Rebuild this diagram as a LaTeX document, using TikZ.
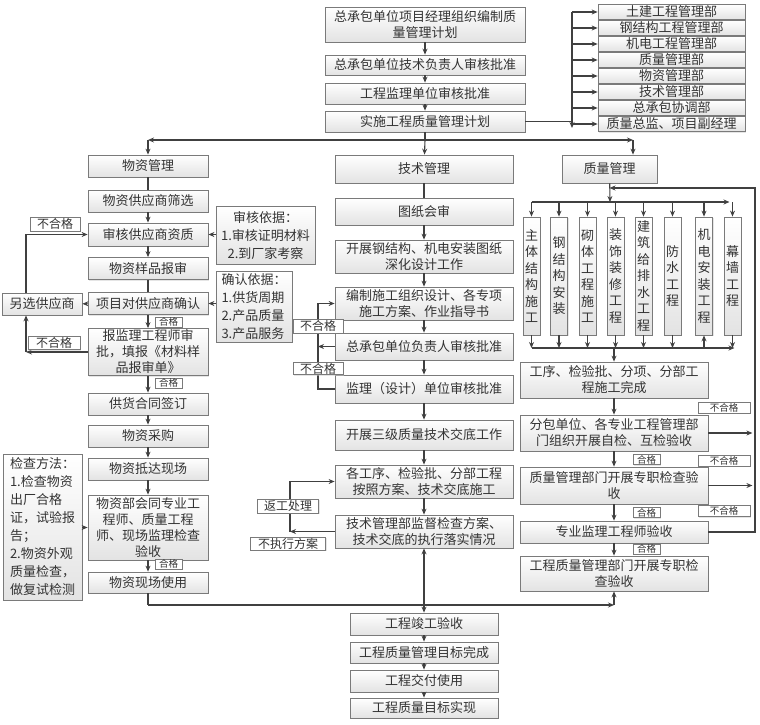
\documentclass[tikz,border=0pt]{standalone}
\usepackage{fontspec}
\setmainfont{Noto Sans CJK SC}
\usetikzlibrary{arrows.meta,shadows}
\definecolor{boxline}{HTML}{7A7A7A}
\definecolor{linegray}{HTML}{404040}
\definecolor{txtgray}{HTML}{333333}
\tikzset{flow box/.style={draw=boxline,line width=0.8pt,top color=white,bottom color=gray!22,text=txtgray,inner sep=0pt,align=center,font=\fontsize{13}{16}\selectfont,drop shadow={shadow xshift=1pt,shadow yshift=-1pt,fill=gray!40}},
  info box/.style={flow box,inner xsep=2pt,font=\fontsize{13}{18}\selectfont},
  top box/.style={flow box,minimum width=200pt},
  dept box/.style={flow box,minimum width=147pt,minimum height=15pt},
  mat box/.style={flow box,minimum width=120pt},
  tech box/.style={flow box,minimum width=178pt},
  qa box/.style={flow box,minimum width=188pt},
  end box/.style={flow box,minimum width=148pt},
  col box/.style={flow box,minimum width=17pt,minimum height=118pt,font=\fontsize{13}{16.5}\selectfont},
  tag box/.style={draw=boxline,line width=0.6pt,fill=white,text=txtgray,inner sep=0pt,font=\fontsize{12}{13}\selectfont,drop shadow={shadow xshift=1pt,shadow yshift=-1pt,fill=gray!40}},
  small tag/.style={tag box,font=\fontsize{9.5}{10}\selectfont},
  flow line/.style={draw=linegray,line width=1.1pt},
  flow arrow/.style={flow line,-{Stealth[length=6pt,width=5pt]}}}
\begin{document}
\begin{tikzpicture}[x=1pt,y=-1pt]
\useasboundingbox (0,0) rectangle (760,725);

% plan
\node (plan)   [top box,minimum height=35pt] at (425,24.5) {总承包单位项目经理组织编制质\\量管理计划};
\node (tecapp) [top box,minimum height=20pt] at (425,65)   {总承包单位技术负责人审核批准};
\node (supapp) [top box,minimum height=21pt] at (425,93.5) {工程监理单位审核批准};
\node (impl)   [top box,minimum height=21pt] at (425,121.5) {实施工程质量管理计划};
\foreach \t [count=\i] in {土建工程管理部,钢结构工程管理部,机电工程管理部,质量管理部,物资管理部,技术管理部,总承包协调部,质量总监、项目副经理}
  \node (d\i) [dept box] at (671.5,{-4+16*\i}) {\t};

% materials
\node (mat)   [mat box,minimum height=22pt] at (148,166)   {物资管理};
\node (msel)  [mat box,minimum height=22pt] at (148,201)   {物资供应商筛选};
\node (mqual) [mat box,minimum height=23pt] at (148,234.5) {审核供应商资质};
\node (msam)  [mat box,minimum height=22pt] at (148,268.5) {物资样品报审};
\node (mconf) [mat box,minimum height=22pt] at (148,303.5) {项目对供应商确认};
\node (mrep)  [mat box,minimum height=47pt] at (148,352)   {报监理工程师审\\批，填报《材料样\\品报审单》};
\node (mcon)  [mat box,minimum height=22pt] at (148,404)   {供货合同签订};
\node (mbuy)  [mat box,minimum height=22pt] at (148,436)   {物资采购};
\node (marr)  [mat box,minimum height=22pt] at (148,469)   {物资抵达现场};
\node (mchk)  [mat box,minimum height=65pt] at (148,527.5) {物资部会同专业工\\程师、质量工程\\师、现场监理检查\\验收};
\node (muse)  [mat box,minimum height=21pt] at (148,582.5) {物资现场使用};
\node (qbasis) [info box,minimum width=99pt,minimum height=58pt] at (265.5,235) {审核依据：\\1.审核证明材料\\2.到厂家考察};
\node (cbasis) [info box,align=left,minimum width=76pt,minimum height=71pt] at (254,306.5) {确认依据：\\1.供货周期\\2.产品质量\\3.产品服务};
\node (alt)    [mat box,minimum width=80pt,minimum height=22pt] at (42,304) {另选供应商};
\node (chkm)   [info box,align=left,minimum width=79pt,minimum height=146pt] at (42.5,527) {检查方法：\\1.检查物资\\出厂合格\\证，试验报\\告；\\2.物资外观\\质量检查，\\做复试检测};

% technology
\node (tech)   [tech box,minimum height=28pt] at (424,169)   {技术管理};
\node (tdraw)  [tech box,minimum height=27pt] at (424,211.5) {图纸会审};
\node (tdeep)  [tech box,minimum height=33pt] at (424,256.5) {开展钢结构、机电安装图纸\\深化设计工作};
\node (tplan)  [tech box,minimum height=33pt] at (424,303.5) {编制施工组织设计、各专项\\施工方案、作业指导书};
\node (tgc)    [tech box,minimum height=27pt] at (424,346.5) {总承包单位负责人审核批准};
\node (tsup)   [tech box,minimum height=28pt] at (424,389)   {监理（设计）单位审核批准};
\node (tbrief) [tech box,minimum height=30pt] at (424,435)   {开展三级质量技术交底工作};
\node (tbuild) [tech box,minimum height=33pt] at (424,481.5) {各工序、检验批、分部工程\\按照方案、技术交底施工};
\node (tinsp)  [tech box,minimum height=33pt] at (424,531.5) {技术管理部监督检查方案、\\技术交底的执行落实情况};

% quality
\node (qm) [flow box,minimum width=95pt,minimum height=28pt] at (609.5,169) {质量管理};
\foreach \x/\t [count=\i] in {531.5/主\\体\\结\\构\\施\\工,559/钢\\结\\构\\安\\装,587.5/砌\\体\\工\\程\\施\\工,615.5/装\\饰\\装\\修\\工\\程,643.5/建\\筑\\给\\排\\水\\工\\程,672.5/防\\水\\工\\程,704/机\\电\\安\\装\\工\\程,732.5/幕\\墙\\工\\程}
  \node (col\i) [col box] at (\x,276) {\t};
\node (qfin)  [qa box,minimum height=36pt] at (614,380)   {工序、检验批、分项、分部工\\程施工完成};
\node (qself) [qa box,minimum height=36pt] at (614,433)   {分包单位、各专业工程管理部\\门组织开展自检、互检验收};
\node (qpro)  [qa box,minimum height=37pt] at (614,485.5) {质量管理部门开展专职检查验\\收};
\node (qsv)   [qa box,minimum height=22pt] at (614,532)   {专业监理工程师验收};
\node (qeng)  [qa box,minimum height=35pt] at (614,573.5) {工程质量管理部门开展专职检\\查验收};

% completion
\node (done)    [end box,minimum height=22pt] at (424,624)   {工程竣工验收};
\node (goal)    [end box,minimum height=21pt] at (424,652.5) {工程质量管理目标完成};
\node (deliver) [end box,minimum height=22pt] at (424,681)   {工程交付使用};
\node (achieve) [end box,minimum height=20pt] at (424,708)   {工程质量目标实现};

% connectors
\foreach \a/\b in {plan/tecapp,tecapp/supapp,supapp/impl}
  \draw [flow arrow] (\a) -- (\b);
\coordinate (dtop) at (572,12);
\coordinate (dbot) at (572,128);
\draw [flow arrow] (dtop) -- (dbot);
\draw [flow line] (impl.east) -- (impl.east -| dtop);
\foreach \i in {1,...,8}
  \draw [flow arrow] (d\i.west -| dtop) -- (d\i.west);

\coordinate (split) at (425,140);
\coordinate (qin) at (633,140);
\draw [flow line] (impl) -- (split);
\draw [flow arrow] (split) -- (split -| mat);
\draw [flow arrow] (split -| mat) -- (mat);
\draw [flow arrow] (split) -- (tech);
\draw [flow arrow] (split) -- (qin);
\draw [flow arrow] (qin) -- (qin |- qm.north);

\draw [flow line] (mat) -- (msel);
\draw [flow line] (msam) -- (mconf);
\foreach \a/\b in {msel/mqual,mqual/msam,mconf/mrep,mrep/mcon,mcon/mbuy,mbuy/marr,marr/mchk,mchk/muse}
  \draw [flow arrow] (\a) -- (\b);
\draw [flow arrow] (qbasis.west |- mqual) -- (mqual.east);
\draw [flow arrow] (cbasis.west |- mconf) -- (mconf.east);
\draw [flow arrow] (chkm.east |- mchk) -- (mchk.west);
\draw [flow arrow] (mconf) -- (alt);
\coordinate (ax) at (26,0);
\draw [flow arrow] (alt.north -| ax) |- (mqual.west);
\draw [flow arrow] (mrep.west) -- (mrep.west -| ax);
\draw [flow arrow] (mrep.west -| ax) -- (alt.south -| ax);

\draw [flow line] (tech) -- (tdraw);
\foreach \a/\b in {tdraw/tdeep,tdeep/tplan,tplan/tgc,tgc/tsup,tsup/tbrief,tbrief/tbuild,tbuild/tinsp}
  \draw [flow arrow] (\a) -- (\b);
\coordinate (lx) at (318,0);
\draw [flow arrow] (tsup.west) -- (tsup.west -| lx) |- (tplan.west);
\draw [flow arrow] (tgc.west) -- (tgc.west -| lx);
\coordinate (rx) at (290,0);
\draw [flow arrow] (tinsp.west) -- (tinsp.west -| rx);
\draw [flow arrow] (tinsp.west -| rx) |- (tbuild.west);

\coordinate (qbus) at (610,202);
\coordinate (cbus) at (614,348);
\draw [flow arrow] (qm) -- (qbus);
\draw [flow arrow] (col1.north |- qbus) -- ([xshift=-3pt]col8.north |- qbus);
\foreach \i in {1,...,8}
  \draw [flow arrow] (col\i.north |- qbus) -- (col\i.north);
\foreach \i in {1,...,6,8}
  \draw [flow arrow] (col\i.south) -- (col\i.south |- cbus);
\draw [flow arrow] (col7.south |- cbus) -- (col7.south);
\draw [flow arrow] (col1.south |- cbus) -- ([xshift=2pt]col8.south |- cbus);
\draw [flow arrow] (cbus) -- (qfin);
\foreach \a/\b in {qfin/qself,qself/qpro,qpro/qsv,qsv/qeng}
  \draw [flow arrow] (\a) -- (\b);
\coordinate (rtop) at (755,188);
\draw [flow arrow] (qself.east) -- ++(44,0);
\draw [flow arrow] (qpro.east) -- ++(44,0);
\draw [flow arrow] (qsv.east) -| (rtop) -- (qm.south |- rtop);

\coordinate (bl) at (148,605);
\coordinate (br) at (614,605);
\draw [flow line] (muse) -- (bl);
\draw [flow arrow] (bl) -- (br);
\draw [flow arrow] (br) -- (qeng);
\draw [flow line,{Stealth[length=6pt,width=5pt]}-{Stealth[length=6pt,width=5pt]}] (tinsp) -- (done);
\foreach \a/\b in {done/goal,goal/deliver,deliver/achieve}
  \draw [flow arrow] (\a) -- (\b);

% tags
\node [tag box,minimum width=50pt,minimum height=14pt] at (55,224)    {不合格};
\node [tag box,minimum width=52pt,minimum height=13pt] at (54,343)    {不合格};
\node [tag box,minimum width=50pt,minimum height=14pt] at (318,326)   {不合格};
\node [tag box,minimum width=50pt,minimum height=12pt] at (318,368.5) {不合格};
\node [tag box,minimum width=61pt,minimum height=14pt] at (288,506)   {返工处理};
\node [tag box,minimum width=75pt,minimum height=13pt] at (288,543.5) {不执行方案};
\foreach \y in {322,383,564}
  \node [small tag,minimum width=27pt,minimum height=10pt] at (168.5,\y) {合格};
\foreach \y in {459.5,512.5,549}
  \node [small tag,minimum width=27pt,minimum height=10pt] at (646.5,\y) {合格};
\foreach \y in {407.5,460.5,511}
  \node [small tag,minimum width=52pt,minimum height=11pt] at (724,\y) {不合格};
\end{tikzpicture}
\end{document}
